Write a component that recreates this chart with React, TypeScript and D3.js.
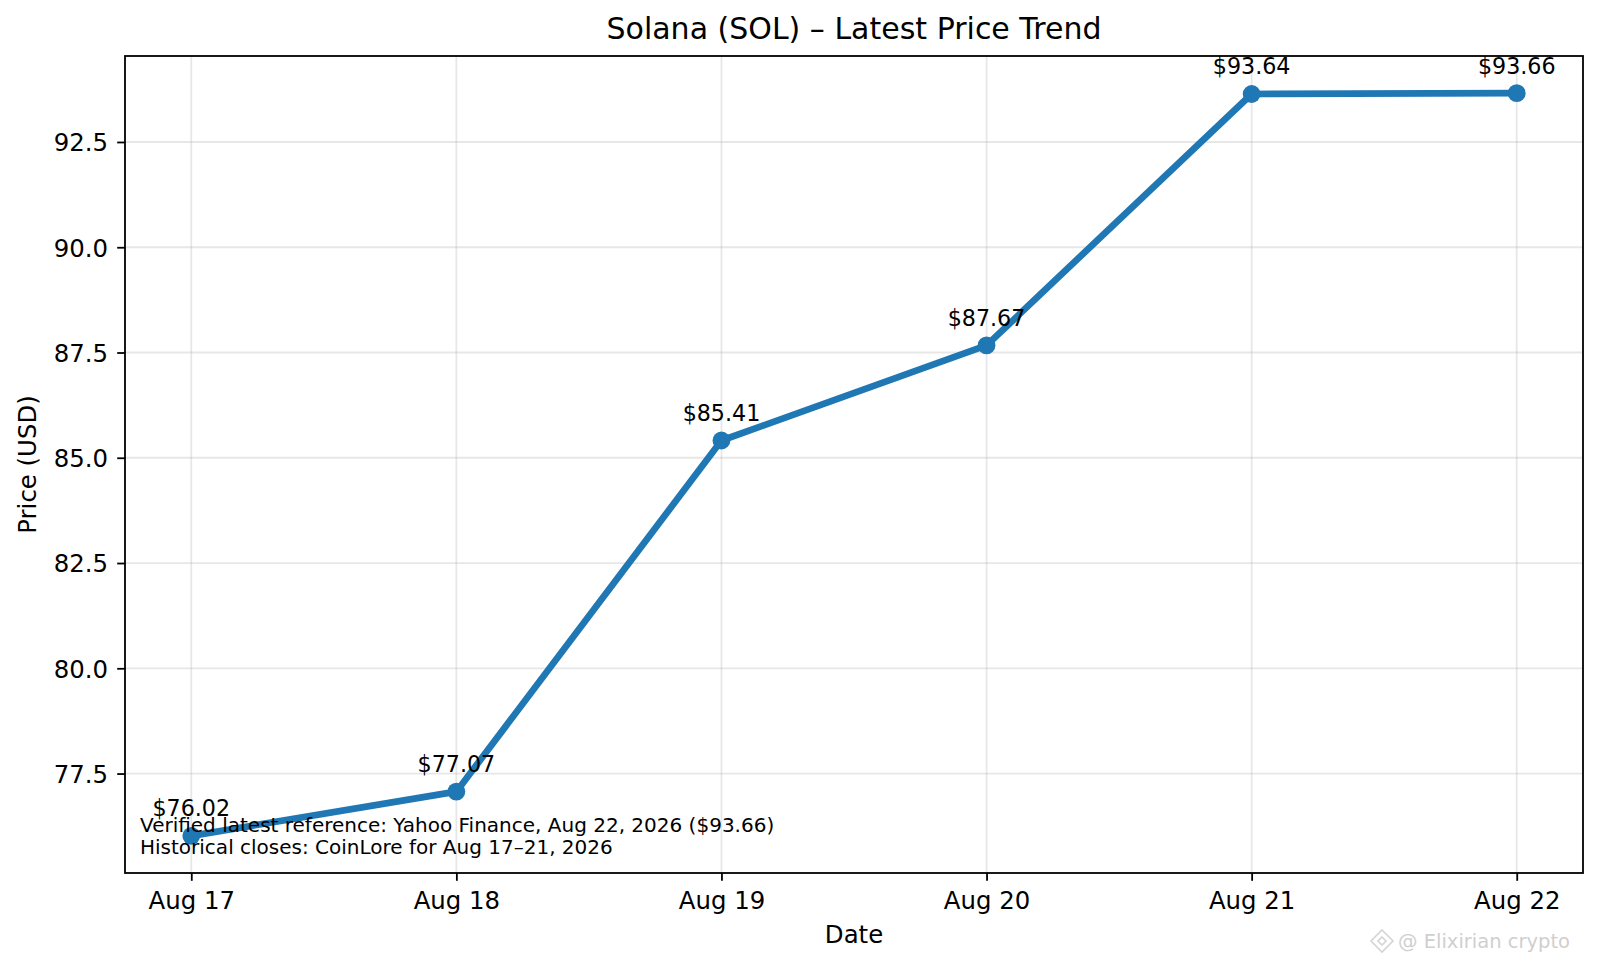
import React, { useEffect, useRef } from 'react';
import * as d3 from 'd3';

const dates = ['2026-08-17', '2026-08-18', '2026-08-19', '2026-08-20', '2026-08-21', '2026-08-22'];
const prices = [76.02, 77.07, 85.41, 87.67, 93.64, 93.66];
const yTicks = [77.5, 80.0, 82.5, 85.0, 87.5, 90.0, 92.5];
const notes = [
    'Verified latest reference: Yahoo Finance, Aug 22, 2026 ($93.66)',
    'Historical closes: CoinLore for Aug 17–21, 2026',
];

const W = 1601;
const H = 967;
const FONT = 'DejaVu Sans, sans-serif';

const App: React.FC = () => {
    const ref = useRef<SVGSVGElement>(null);

    useEffect(() => {
        if (!ref.current) return;
        const root = d3.select(ref.current);
        root.selectAll('*').remove();

        const box = { left: 125, right: 1583, top: 56, bottom: 873 };
        const parse = d3.utcParse('%Y-%m-%d');
        const data = dates.map((d, i) => ({ date: parse(d) as Date, price: prices[i] }));

        // matplotlib style 5% margins
        const [x0, x1] = d3.extent(data, (d) => +d.date) as [number, number];
        const dx = (x1 - x0) * 0.05;
        const xScale = d3.scaleUtc().domain([x0 - dx, x1 + dx]).range([box.left, box.right]);

        const [y0, y1] = d3.extent(data, (d) => d.price) as [number, number];
        const dy = (y1 - y0) * 0.05;
        const yScale = d3.scaleLinear().domain([y0 - dy, y1 + dy]).range([box.bottom, box.top]);

        root.append('rect').attr('width', W).attr('height', H).attr('fill', '#fff');

        // grid
        const grid = root.append('g').attr('stroke', '#b0b0b0').attr('stroke-opacity', 0.3).attr('stroke-width', 1.8);
        yTicks.forEach((t) => {
            grid.append('line').attr('x1', box.left).attr('x2', box.right)
                .attr('y1', yScale(t)).attr('y2', yScale(t));
        });
        data.forEach((d) => {
            grid.append('line').attr('y1', box.top).attr('y2', box.bottom)
                .attr('x1', xScale(d.date)).attr('x2', xScale(d.date));
        });

        // axes
        const yAxis = root.append('g').attr('transform', `translate(${box.left},0)`)
            .call(d3.axisLeft(yScale).tickValues(yTicks).tickFormat(d3.format('.1f')).tickSize(7.8).tickPadding(8));
        const xAxis = root.append('g').attr('transform', `translate(0,${box.bottom})`)
            .call(d3.axisBottom(xScale).tickValues(data.map((d) => d.date))
                .tickFormat((d) => d3.utcFormat('%b %d')(d as Date)).tickSize(7.8).tickPadding(8));
        [xAxis, yAxis].forEach((a) => {
            a.select('.domain').remove();
            a.selectAll('line').attr('stroke', '#000').attr('stroke-width', 1.8);
            a.selectAll('text').attr('font-family', FONT).attr('font-size', 24.4).attr('fill', '#000');
        });
        yAxis.selectAll('text').attr('x', -17).attr('dy', '0.36em');
        xAxis.selectAll('text').attr('y', 0).attr('dy', 0).attr('transform', 'translate(0,36)');

        root.append('rect').attr('x', box.left).attr('y', box.top)
            .attr('width', box.right - box.left).attr('height', box.bottom - box.top)
            .attr('fill', 'none').attr('stroke', '#000').attr('stroke-width', 1.8);

        // line + markers
        const line = d3.line<{ date: Date; price: number }>()
            .x((d) => xScale(d.date)).y((d) => yScale(d.price));
        root.append('path').datum(data).attr('d', line).attr('fill', 'none')
            .attr('stroke', '#1f77b4').attr('stroke-width', 6.7).attr('stroke-linejoin', 'round');
        root.selectAll('.dot').data(data).enter().append('circle')
            .attr('cx', (d) => xScale(d.date)).attr('cy', (d) => yScale(d.price))
            .attr('r', 8.9).attr('fill', '#1f77b4');

        // value labels
        root.selectAll('.lbl').data(data).enter().append('text')
            .attr('x', (d) => xScale(d.date)).attr('y', (d) => yScale(d.price) - 19.5)
            .attr('text-anchor', 'middle').attr('font-family', FONT).attr('font-size', 22.2)
            .text((d) => `$${d.price.toFixed(2)}`);

        // footnote
        notes.forEach((n, i) => {
            root.append('text').attr('x', 140).attr('y', 832 + i * 22)
                .attr('font-family', FONT).attr('font-size', 20).text(n);
        });

        // titles
        root.append('text').attr('x', (box.left + box.right) / 2).attr('y', 39)
            .attr('text-anchor', 'middle').attr('font-family', FONT).attr('font-size', 30)
            .text('Solana (SOL) – Latest Price Trend');
        root.append('text').attr('x', (box.left + box.right) / 2).attr('y', 943)
            .attr('text-anchor', 'middle').attr('font-family', FONT).attr('font-size', 24.4)
            .text('Date');
        root.append('text').attr('transform', `translate(36,${(box.top + box.bottom) / 2}) rotate(-90)`)
            .attr('text-anchor', 'middle').attr('font-family', FONT).attr('font-size', 24.4)
            .text('Price (USD)');

        // watermark
        const wm = root.append('g').attr('fill', 'none').attr('stroke', '#d4d4d4').attr('stroke-width', 1.6);
        const cx = 1382;
        const cy = 941;
        wm.append('path').attr('d', `M${cx},${cy - 11} L${cx + 11},${cy} L${cx},${cy + 11} L${cx - 11},${cy} Z`);
        wm.append('path').attr('d', `M${cx},${cy - 4} L${cx + 4},${cy} L${cx},${cy + 4} L${cx - 4},${cy} Z`);
        root.append('text').attr('x', 1398).attr('y', 948).attr('font-family', FONT).attr('font-size', 19.5)
            .attr('fill', '#cfcfcf').text('@ Elixirian crypto');
    }, []);

    return <svg ref={ref} width={W} height={H} style={{ position: 'absolute', left: 0, top: 0 }} />;
};

export default App;
